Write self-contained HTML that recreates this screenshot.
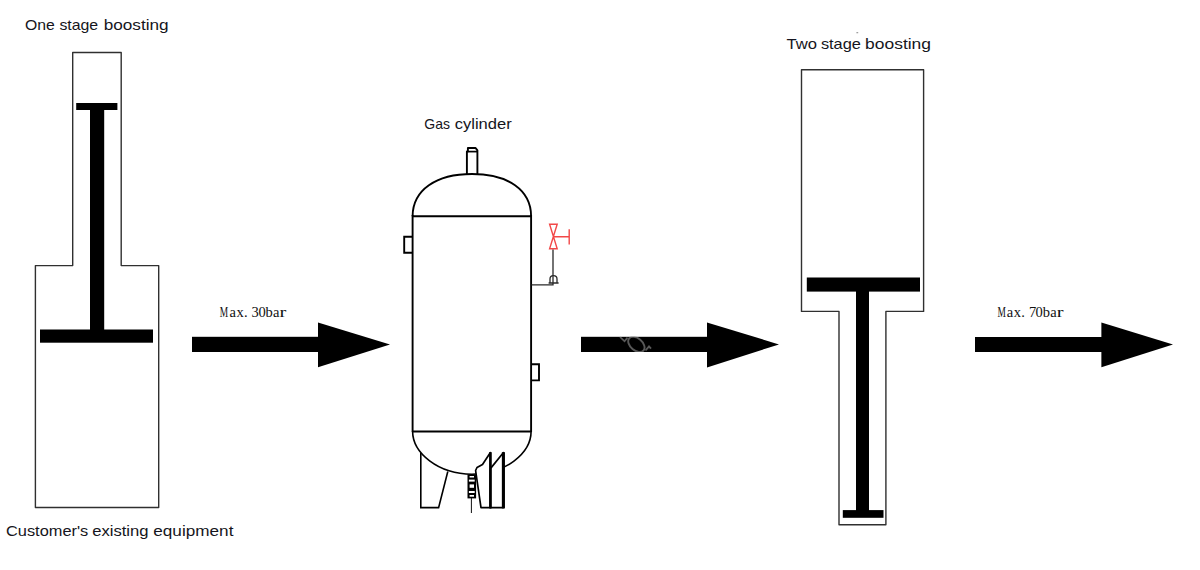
<!DOCTYPE html>
<html>
<head>
<meta charset="utf-8">
<title>Boosting diagram</title>
<style>
html,body{margin:0;padding:0;background:#fff;}
body{width:1200px;height:570px;overflow:hidden;}
svg{display:block;}
.lbl{font-family:"Liberation Sans",sans-serif;font-size:14.6px;fill:#151520;}
.mono{font-family:"Liberation Serif",serif;font-size:14.5px;fill:#111;}
</style>
</head>
<body>
<svg width="1200" height="570" viewBox="0 0 1200 570">
<rect x="0" y="0" width="1200" height="570" fill="#ffffff"/>

<!-- ===== One stage boosting (left piston) ===== -->
<text class="lbl" x="24.9" y="29.8" textLength="29.8" lengthAdjust="spacingAndGlyphs">One</text>
<text class="lbl" x="59.4" y="29.8" textLength="38.8" lengthAdjust="spacingAndGlyphs">stage</text>
<text class="lbl" x="103.7" y="29.8" textLength="65.0" lengthAdjust="spacingAndGlyphs">boosting</text>
<path d="M72.7 52.5 H121.2 V265.6 H158.7 V507.5 H35.4 V265.6 H72.7 Z" fill="none" stroke="#303030" stroke-width="1.4" stroke-linejoin="round"/>
<rect x="76.2" y="103" width="41.2" height="7" fill="#000"/>
<rect x="90" y="103" width="14.2" height="230" fill="#000"/>
<rect x="40" y="329.5" width="113" height="13.2" fill="#000"/>
<text class="lbl" x="6.0" y="535.8" textLength="82.3" lengthAdjust="spacingAndGlyphs">Customer's</text>
<text class="lbl" x="92.2" y="535.8" textLength="56.3" lengthAdjust="spacingAndGlyphs">existing</text>
<text class="lbl" x="153.3" y="535.8" textLength="80.1" lengthAdjust="spacingAndGlyphs">equipment</text>

<!-- ===== Arrow 1 ===== -->
<g class="mono">
<text x="219.8" y="317.4" textLength="8.4" lengthAdjust="spacingAndGlyphs">M</text>
<text y="317.4" x="229.6 236.6 244 251.4 258.4 265.6 273">ax.30ba</text>
<text x="279.6" y="317.4" textLength="6.8" lengthAdjust="spacingAndGlyphs">r</text>
</g>
<rect x="192" y="336.8" width="127" height="15.2" fill="#000"/>
<path d="M318 322.5 L390 344.4 L318 367.2 Z" fill="#000"/>

<!-- ===== Gas cylinder ===== -->
<text class="lbl" x="424.3" y="128.5" textLength="25.7" lengthAdjust="spacingAndGlyphs">Gas</text>
<text class="lbl" x="454.7" y="128.5" textLength="57.0" lengthAdjust="spacingAndGlyphs">cylinder</text>
<g fill="none" stroke="#000" stroke-width="1.9">
  <!-- top nozzle -->
  <path d="M466.9 174 V151.4 H467.9 V148 H475.6 L477.4 150.4 V174" stroke-linejoin="round"/>
  <path d="M466.9 151.6 H477.4" stroke-width="1.7"/>
  <!-- dome -->
  <path d="M412.6 216.2 C412.8 190 436 174 472 174 C508 174 531 190 531.1 216.2"/>
  <!-- body -->
  <path d="M412.6 215 V432 M531.1 215 V432"/>
  <path d="M412.6 216.2 H531.1 M412.6 431.5 H531.1"/>
  <!-- bottom dome -->
  <path d="M412.6 431.6 C412.8 453 438 474.2 472 474.2 C506 474.2 531 453 531.1 431.6" stroke-width="1.6"/>
  <!-- left nozzle -->
  <path d="M412.6 236.8 H404.2 V252.8 H412.6"/>
  <!-- right nozzle -->
  <path d="M531.1 364.2 H539 V380.4 H531.1"/>
</g>
<!-- legs -->
<g fill="none" stroke="#000" stroke-width="1.6">
  <path d="M420.8 453 V507.6 H438.6 L447.8 471.5"/>
</g>
<g fill="#fff" stroke="#000" stroke-width="1.7" stroke-linejoin="round">
  <path d="M490.4 452.5 L482.5 464.5 L477 467.5 L475.6 470.5 L481 507.6 H490.4 Z"/>
  <path d="M503.5 452.5 L490.6 468.4 V507.6 H503.5 Z"/>
</g>
<path d="M490.4 452.2 V508.4" stroke="#000" stroke-width="2.6" fill="none"/>
<path d="M503.4 452.2 V508.4" stroke="#000" stroke-width="3.1" fill="none"/>
<!-- drain -->
<rect x="467.5" y="474.4" width="8.6" height="24" fill="#000"/>
<g fill="#fff">
  <rect x="469.6" y="476" width="4.4" height="1.5"/>
  <rect x="468.9" y="479.6" width="5.8" height="2"/>
  <rect x="469.6" y="484.4" width="4.4" height="3.4"/>
  <rect x="468.9" y="491" width="5.8" height="2"/>
  <rect x="469.6" y="495" width="4.4" height="1.7"/>
</g>
<path d="M471.4 498 V513" stroke="#111" stroke-width="1"/>

<!-- valve -->
<g fill="none" stroke="#f24848" stroke-width="1.4">
  <path d="M549.6 224.2 H557.2 L549.6 248.8 H557.2 Z"/>
  <path d="M553.4 236.8 H569.2 M569.2 229.2 V244.6"/>
</g>
<g fill="none" stroke="#2a2a2a" stroke-width="1.3">
  <path d="M553 249.4 V284.8 H531.5"/>
  <path d="M548.6 283 H558.6 M550 283 V279 Q550 275.6 553.4 275.6 Q557 275.6 557 279 V283"/>
</g>

<!-- ===== Arrow 2 ===== -->
<rect x="581" y="336.8" width="127" height="15.2" fill="#000"/>
<path d="M707 322.5 L779 344.4 L707 367.4 Z" fill="#000"/>
<clipPath id="sh2"><rect x="581" y="336.8" width="127" height="15.2"/></clipPath>
<g clip-path="url(#sh2)" fill="none" stroke="#585858">
  <ellipse cx="636.4" cy="344.4" rx="9.4" ry="6" transform="rotate(40 636.4 344.4)" stroke-width="1.9"/>
  <path d="M620 337 L624.5 341.2 L627.5 337.6" stroke-width="1.7"/>
  <path d="M645.5 350.5 L649 346.4 L651 348.6" stroke-width="1.9"/>
</g>

<!-- ===== Two stage boosting (right piston) ===== -->
<rect x="856.4" y="32.3" width="1.8" height="0.9" fill="#777"/>
<text class="lbl" x="786.5" y="48.5" textLength="30.5" lengthAdjust="spacingAndGlyphs">Two</text>
<text class="lbl" x="820.9" y="48.5" textLength="40.0" lengthAdjust="spacingAndGlyphs">stage</text>
<text class="lbl" x="865.1" y="48.5" textLength="65.9" lengthAdjust="spacingAndGlyphs">boosting</text>
<path d="M801.5 69.7 H923.6 V311.4 H885.9 V524.7 H839 V311.4 H801.5 Z" fill="none" stroke="#303030" stroke-width="1.4" stroke-linejoin="round"/>
<rect x="806.8" y="277.5" width="113.2" height="14.1" fill="#000"/>
<rect x="856" y="280" width="13" height="235" fill="#000"/>
<rect x="842.8" y="510.1" width="40.7" height="7.7" fill="#000"/>

<!-- ===== Arrow 3 ===== -->
<g class="mono">
<text x="997.5" y="317.3" textLength="8.4" lengthAdjust="spacingAndGlyphs">M</text>
<text y="317.3" x="1006.8 1013.8 1021.2 1029 1035.6 1042.8 1050.2">ax.70ba</text>
<text x="1056.8" y="317.3" textLength="6.8" lengthAdjust="spacingAndGlyphs">r</text>
</g>
<rect x="975" y="337" width="127.5" height="15" fill="#000"/>
<path d="M1101.4 322.5 L1173 344.4 L1101.4 367.2 Z" fill="#000"/>
</svg>
</body>
</html>
